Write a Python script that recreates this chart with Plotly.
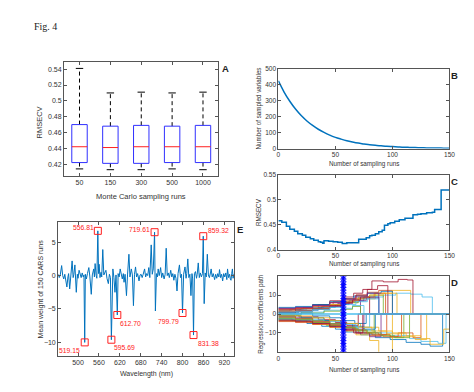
import numpy as np
import plotly.graph_objects as go

# ---------------- data ----------------
# Panel A: box statistics
A_CATEGORIES = ["50", "150", "300", "500", "1000"]
A_LOWER = [0.414, 0.413, 0.413, 0.414, 0.413]
A_Q1 = [0.422, 0.421, 0.421, 0.422, 0.422]
A_MEDIAN = [0.442, 0.441, 0.442, 0.442, 0.442]
A_Q3 = [0.470, 0.468, 0.469, 0.468, 0.469]
A_UPPER = [0.541, 0.510, 0.511, 0.510, 0.511]

# Panel B: number of sampled variables
B_RUNS = [0, 5, 10, 15, 20, 25, 30, 35, 40, 45, 50, 55, 60, 65, 70, 75, 80, 85, 90,
          95, 100, 105, 110, 115, 120, 125, 130, 135, 140, 145, 150]
B_VARS = [425, 355, 297, 248, 207, 173, 145, 121, 101, 84, 70, 59, 49, 41, 34, 29,
          24, 20, 17, 14, 12, 10, 8, 7, 6, 5, 4, 3, 3, 2, 2]

# Panel C: RMSECV per run
C_RUNS = [0, 3, 7, 10, 14, 17, 21, 24, 28, 31, 35, 37, 38.8, 40, 44, 48, 52, 56, 60,
          64, 69, 70.4, 74, 77, 80, 82, 85, 88, 91, 93, 96, 98, 102, 106, 111, 116,
          118, 122, 125, 130, 135, 137, 142.7, 150]
C_RMSECV = [0.458, 0.455, 0.447, 0.441, 0.437, 0.432, 0.429, 0.425, 0.422, 0.419,
            0.416, 0.415, 0.413, 0.418, 0.417, 0.416, 0.415, 0.4125, 0.414, 0.414,
            0.414, 0.421, 0.421, 0.424, 0.428, 0.429, 0.432, 0.436, 0.439, 0.449,
            0.452, 0.454, 0.457, 0.460, 0.463, 0.463, 0.470, 0.471, 0.472, 0.474,
            0.475, 0.481, 0.520, 0.520]

# Panel D: regression coefficient paths (breakpoints, step-wise)
D_PATHS_X = [
    [0, 12, 25, 38, 50, 60, 72, 85, 98, 112, 125, 133, 144, 150],
    [0, 10, 22, 35, 48, 58, 68, 78, 88, 100, 150],
    [0, 15, 30, 45, 57, 70, 85, 100, 116, 150],
    [0, 15, 30, 45, 55, 65, 75, 150],
    [0, 14, 28, 42, 56, 70, 85, 98, 110, 150],
    [0, 12, 25, 40, 55, 68, 80, 92, 103, 116, 126, 135, 150],
    [0, 15, 30, 45, 57, 66, 74, 82, 92, 105, 113, 118, 150],
    [0, 18, 35, 50, 62, 75, 88, 150],
    [0, 15, 30, 45, 58, 70, 82, 95, 150],
    [0, 15, 30, 45, 57, 68, 80, 88, 100, 150],
    [0, 20, 38, 52, 62, 72, 150],
    [0, 15, 30, 45, 58, 70, 80, 92, 150],
    [0, 15, 30, 45, 57, 70, 85, 100, 115, 125, 140, 147, 150],
    [0, 18, 35, 50, 60, 70, 150],
    [0, 15, 30, 45, 56, 66, 78, 90, 100, 150],
    [0, 15, 30, 45, 57, 68, 80, 92, 105, 118, 125, 150],
    [0, 20, 40, 57, 72, 88, 100, 112, 125, 133, 145, 150],
    [0, 15, 30, 45, 55, 65, 77, 88, 150],
    [0, 15, 30, 45, 57, 66, 75, 84, 150],
    [0, 20, 40, 55, 65, 75, 150],
    [0, 15, 30, 45, 57, 68, 78, 87, 96, 150],
    [0, 20, 40, 55, 65, 75, 85, 150],
    [0, 15, 30, 45, 57, 66, 75, 84, 94, 150],
    [0, 15, 30, 45, 57, 70, 80, 92, 104, 150],
    [0, 15, 30, 45, 57, 68, 80, 90, 150],
    [0, 20, 40, 55, 65, 72, 150],
    [0, 20, 40, 55, 68, 80, 150],
    [0, 15, 30, 45, 57, 65, 72, 80, 150],
    [0, 15, 30, 45, 57, 67, 77, 150],
    [0, 15, 30, 45, 57, 67, 77, 88, 98, 108, 150],
    [0, 15, 30, 45, 57, 70, 82, 95, 108, 120, 130, 150],
    [0, 15, 30, 45, 57, 67, 78, 88, 150],
    [0, 15, 30, 45, 57, 68, 78, 90, 102, 115, 150],
    [0, 15, 30, 45, 57, 68, 78, 88, 150],
    [0, 15, 30, 45, 57, 66, 74, 150],
]
D_PATHS_Y = [
    [-2.5, -3.5, -5, -6.5, -8, -9.5, -11, -12.5, -13.5, -15, -16, -17, 0, 0],
    [1.5, 2.5, 3.5, 5, 6.5, 8, 10, 11.5, 12.5, 0, 0],
    [0.5, 1.5, 3, 4.5, 6, 8, 11, 12.5, 0, 0],
    [-1, -2, -3.5, -5, -6.5, -8, 0, 0],
    [-3, -3.5, -4.5, -6, -7.5, -9, -11, -12.5, 0, 0],
    [2, 2.5, 3.5, 5, 6.5, 8, 9, 10, 11, 10.5, 9, 0, 0],
    [3, 3.5, 5, 7, 9, 11, 13, 17.5, 17, 18.3, 18, 0, 0],
    [1, 2, 3.5, 5, 7, 9, 0, 0],
    [-2, -3, -4.5, -6, -8, -10, -11, 0, 0],
    [-3.5, -4, -5.5, -7, -9, -11, -14, -20.5, 0, 0],
    [2.5, 3, 4, 5.5, 7, 0, 0],
    [0.5, 1.5, 2.5, 4, 6, 8.5, 10, 0, 0],
    [-1.5, -2.5, -4, -5.5, -7, -8.5, -10, -11.5, -13, -14.5, -15.5, 0, 0],
    [-0.5, -1.5, -3, -4.5, -6, 0, 0],
    [3.5, 4, 5, 6.5, 8, 9.5, 11, 12, 0, 0],
    [-4, -4.5, -5.5, -7, -8.5, -10, -11.5, -12, -10, -12.5, 0, 0],
    [-1, -2, -3.5, -5, -7, -9, -10, -11.5, -13, -16, -8, -8],
    [1, 1.5, 2.5, 4, 5.5, 7, 8.5, 0, 0],
    [-2, -2.5, -3.5, -5, -7, -8.5, -10, 0, 0],
    [0, 1, 2, 3, 4.5, 0, 0],
    [2, 3, 4.5, 6, 8, 10, 13, 15, 0, 0],
    [-1, -2, -3.5, -5, -6.5, -8, 0, 0],
    [2.5, 3, 4, 5, 6.5, 8, 9, 11, 0, 0],
    [1.5, 2, 3, 5, 7, 9, 10, 11, 0, 0],
    [-3, -3.5, -5, -6.5, -8, -10, -12, 0, 0],
    [-0.5, 0.5, 1.5, 2.5, 4, 0, 0],
    [-2.5, -3, -4, -5.5, -7, 0, 0],
    [1, 2, 3, 4.5, 6, 7.5, 9, 0, 0],
    [0.5, 0.5, -1, -2, -3.5, -5, 0, 0],
    [-1.5, -2.5, -4, -5.5, -7, -8.5, -10, -11, -12, 0, 0],
    [-0.5, -1, -2, -3.5, -5, -7, -9, -10.5, -12, -13.5, 0, 0],
    [3, 3.5, 4.5, 6, 7.5, 9, 11, 0, 0],
    [-2.5, -3, -4.5, -6, -7, -8.5, -10, -11.5, -12.5, 0, 0],
    [1, 1.5, 2.5, 3.5, 5, 6.5, 8, 0, 0],
    [-3.5, -4, -5, -6.5, -8.5, -10, 0, 0],
]
D_BEST_RUN = 57

# Panel E: mean weights over wavelength
E_WAVELENGTH = [443, 446, 449, 453, 456, 459, 462, 465, 468, 471, 473, 476, 479, 483, 486,
                488, 491, 493, 495, 498, 500, 503, 506, 509, 512, 515, 517, 519.15, 521,
                524, 527, 531, 534, 538, 541, 545, 547, 549, 552, 554, 556.81, 559, 560.5,
                563, 566, 568, 571, 574, 577, 580, 583, 587, 590, 593, 595.69, 598, 600,
                603, 606, 609, 612.70, 615, 618, 621, 624, 627, 630, 632, 635, 639, 642,
                646, 649, 653, 656, 659, 662, 665, 668, 671, 675, 678, 681, 684, 687, 691,
                694, 697, 700, 703, 706, 710, 713, 716, 719.61, 722, 725, 728, 730, 733,
                737, 740, 743, 747, 750, 753, 756, 759, 762, 766, 769, 772, 775, 778, 781,
                784, 787, 791, 794, 797, 799.79, 803, 807, 810, 812, 815, 818, 821, 824,
                827, 829, 831.38, 834, 837, 840, 842, 845, 848, 851, 854, 857, 859.32, 862,
                865, 868, 871, 874, 877, 880, 882, 885, 888, 892, 895, 898, 901, 904, 906,
                909, 912, 915, 918, 921, 924, 927, 929, 932, 935, 937, 939, 941, 943, 945, 947]
E_WEIGHT = [0.2, -0.3, 0.1, 1.5, 0.0, -0.5, 0.2, -0.9, -1.7, -0.2, 0.3, -2.0, 0.1, 2.2, -0.3,
            0.2, 1.6, 0.0, -2.5, 0.2, -0.4, 0.8, 0.1, -0.3, 0.4, -0.2, 0.1, -10.0, 0.2,
            -0.5, 0.3, 1.2, -0.2, -2.8, 0.1, 1.0, -0.2, 1.8, 0.0, -0.4, 6.7, 0.3, 1.7,
            -0.3, 0.5, -0.2, 3.9, 0.1, 0.6, 0.8, -0.4, -1.2, 0.2, -0.3, -9.6, 0.2, 1.0,
            -0.3, -2.5, 0.1, -5.9, 0.3, -0.2, 1.0, 0.0, -0.5, 0.3, -1.0, 0.2, -3.0, 0.1,
            3.2, -0.2, 1.0, 0.1, -4.5, 0.2, 1.3, -0.2, 0.3, -0.8, 0.1, 0.2, -0.3, 0.2, 1.0,
            -0.2, 0.3, 0.0, 1.2, -0.3, 4.6, 0.2, 1.0, 6.5, -5.3, 0.3, -0.2, 1.0, 0.0,
            1.2, -0.3, 0.4, -0.5, 0.2, 4.1, 0.0, 0.4, -0.3, 0.8, -0.2, 0.3, -0.7, 0.2, -0.4,
            -2.3, 0.3, 1.6, -0.3, 0.2, -5.6, 0.2, 1.3, -0.4, 0.3, 2.5, -0.3, 0.2, -3.0,
            0.3, -0.5, -8.9, 0.3, 0.6, -0.4, 0.2, 1.9, -0.3, 0.4, -0.2, 0.3, 5.9, -4.2,
            0.4, -0.2, 3.2, 0.1, -0.3, 0.4, 1.0, -0.2, 0.3, -0.6, 0.2, -0.4, 0.3, -0.2, 0.9,
            -0.3, 0.2, -0.8, 0.3, -0.2, 0.4, -0.6, 1.0, -0.3, 0.2, -0.5, -0.7, 0.3, 1.0, -0.4, 0.2]
E_PEAK_WL = [556.81, 719.61, 859.32, 519.15, 595.69, 612.70, 799.79, 831.38]
E_PEAK_VAL = [6.7, 6.5, 5.9, -10.0, -9.6, -5.9, -5.6, -8.9]

# ---------------- styling ----------------
W, H = 474, 392
FONT = "Liberation Sans"
MATLAB = ["#0072BD", "#D95319", "#EDB120", "#7E2F8E", "#77AC30", "#4DBEEE", "#A2142F"]
AX_COL = "#555555"
TXT_COL = "#333333"


def px(x):
    return x / W


def py(y):
    return 1 - y / H


def axis_style(size=7):
    return dict(showline=True, linecolor=AX_COL, linewidth=1, mirror="ticks",
                ticks="inside", ticklen=3, tickcolor=AX_COL,
                tickfont=dict(size=size, color=TXT_COL, family=FONT),
                showgrid=False, zeroline=False, fixedrange=True)


fig = go.Figure()

# ---- Panel A: boxes drawn from statistics
bx, by, mx, my, wx, wy, cx, cy = [], [], [], [], [], [], [], []
hw, cw = 0.25, 0.12
for i in range(len(A_CATEGORIES)):
    p = i + 1
    bx += [p - hw, p + hw, p + hw, p - hw, p - hw, None]
    by += [A_Q1[i], A_Q1[i], A_Q3[i], A_Q3[i], A_Q1[i], None]
    mx += [p - hw, p + hw, None]
    my += [A_MEDIAN[i], A_MEDIAN[i], None]
    wx += [p, p, None, p, p, None]
    wy += [A_Q3[i], A_UPPER[i], None, A_Q1[i], A_LOWER[i], None]
    cx += [p - cw, p + cw, None, p - cw, p + cw, None]
    cy += [A_UPPER[i], A_UPPER[i], None, A_LOWER[i], A_LOWER[i], None]
fig.add_trace(go.Scatter(x=wx, y=wy, mode="lines", line=dict(color="black", width=1, dash="4px,3px"),
                         xaxis="x", yaxis="y", showlegend=False, hoverinfo="skip"))
fig.add_trace(go.Scatter(x=cx, y=cy, mode="lines", line=dict(color="black", width=1),
                         xaxis="x", yaxis="y", showlegend=False, hoverinfo="skip"))
fig.add_trace(go.Scatter(x=bx, y=by, mode="lines", line=dict(color="#3030ff", width=1),
                         xaxis="x", yaxis="y", showlegend=False, hoverinfo="skip"))
fig.add_trace(go.Scatter(x=mx, y=my, mode="lines", line=dict(color="#ff2020", width=1),
                         xaxis="x", yaxis="y", showlegend=False, hoverinfo="skip"))

# ---- Panel B
fig.add_trace(go.Scatter(x=B_RUNS, y=B_VARS, mode="lines", line=dict(color=MATLAB[0], width=1.5, shape="spline"),
                         xaxis="x2", yaxis="y2", showlegend=False))

# ---- Panel C
fig.add_trace(go.Scatter(x=C_RUNS, y=C_RMSECV, mode="lines", line=dict(color=MATLAB[0], width=1.5, shape="hv"),
                         xaxis="x3", yaxis="y3", showlegend=False))

# ---- Panel D
for i, (xs, ys) in enumerate(zip(D_PATHS_X, D_PATHS_Y)):
    fig.add_trace(go.Scatter(x=xs, y=ys, mode="lines", line=dict(color=MATLAB[i % 7], width=0.8, shape="hv"),
                             xaxis="x4", yaxis="y4", showlegend=False))
fig.add_trace(go.Scatter(x=[0, 150], y=[0, 0], mode="lines", line=dict(color=MATLAB[5], width=1.5),
                         xaxis="x4", yaxis="y4", showlegend=False))
vy = np.linspace(-20, 20, 28)
fig.add_trace(go.Scatter(x=[D_BEST_RUN] * len(vy), y=vy, mode="lines+markers",
                         line=dict(color="#0000ff", width=2, dash="dot"),
                         marker=dict(symbol="asterisk-open", size=5, color="#0000ff",
                                     line=dict(color="#0000ff", width=1)),
                         xaxis="x4", yaxis="y4", showlegend=False))

# ---- Panel E
fig.add_trace(go.Scatter(x=E_WAVELENGTH, y=E_WEIGHT, mode="lines", line=dict(color=MATLAB[0], width=1),
                         xaxis="x5", yaxis="y5", showlegend=False))
fig.add_trace(go.Scatter(x=E_PEAK_WL, y=E_PEAK_VAL, mode="markers",
                         marker=dict(symbol="square-open", size=7, color="#ff2020", line=dict(width=1)),
                         xaxis="x5", yaxis="y5", showlegend=False))

label_pos = [  # xanchor, yanchor, xshift, yshift
    ("right", "middle", -2, 3), ("right", "middle", -3, 3), ("left", "middle", 3, 6),
    ("right", "top", -3, -3), ("left", "top", 1, -2), ("left", "top", 1, -3),
    ("right", "top", -2, -3), ("left", "top", 2, -3)]
annotations = []
for (wl, val), (xa, ya, xs, ys) in zip(zip(E_PEAK_WL, E_PEAK_VAL), label_pos):
    annotations.append(dict(x=wl, y=val, xref="x5", yref="y5", text=f"{wl:.2f}", showarrow=False,
                            xanchor=xa, yanchor=ya, xshift=xs, yshift=ys,
                            font=dict(size=6.8, color="#ff2020", family=FONT)))

# ---- layout / axes
dA = dict(x=[px(55), px(212)], y=[py(167), py(51)])
dB = dict(x=[px(273), px(447)], y=[py(139), py(58)])
dC = dict(x=[px(273), px(447)], y=[py(242), py(166)])
dD = dict(x=[px(273), px(447)], y=[py(346), py(269)])
dE = dict(x=[px(49), px(228)], y=[py(350), py(214)])

layout = dict(width=W, height=H, margin=dict(l=0, r=0, t=0, b=0),
              paper_bgcolor="white", plot_bgcolor="white", showlegend=False,
              font=dict(family=FONT, color=TXT_COL))
layout["xaxis"] = dict(axis_style(7), domain=dA["x"], anchor="y", range=[0.5, 5.5],
                       tickvals=[1, 2, 3, 4, 5], ticktext=A_CATEGORIES)
layout["yaxis"] = dict(axis_style(7), domain=dA["y"], anchor="x", range=[0.405, 0.549],
                       tickvals=[0.42, 0.44, 0.46, 0.48, 0.5, 0.52, 0.54])
layout["xaxis2"] = dict(axis_style(6.5), domain=dB["x"], anchor="y2", range=[0, 150], tickvals=[0, 50, 100, 150])
layout["yaxis2"] = dict(axis_style(6.5), domain=dB["y"], anchor="x2", range=[0, 500], dtick=100)
layout["xaxis3"] = dict(axis_style(6.5), domain=dC["x"], anchor="y3", range=[0, 150], tickvals=[0, 50, 100, 150])
layout["yaxis3"] = dict(axis_style(6.5), domain=dC["y"], anchor="x3", range=[0.4, 0.55],
                        tickvals=[0.4, 0.45, 0.5, 0.55])
layout["xaxis4"] = dict(axis_style(6.5), domain=dD["x"], anchor="y4", range=[0, 150], tickvals=[0, 50, 100, 150])
layout["yaxis4"] = dict(axis_style(6.5), domain=dD["y"], anchor="x4", range=[-20, 20], tickvals=[-10, 0, 10])
layout["xaxis5"] = dict(axis_style(7), domain=dE["x"], anchor="y5", range=[443, 948],
                        tickvals=[500, 560, 620, 680, 740, 800, 860, 920])
layout["yaxis5"] = dict(axis_style(7), domain=dE["y"], anchor="x5", range=[-12, 8], tickvals=[-10, -5, 0, 5])


def text(x, y, s, size=7.5, angle=0, **kw):
    d = dict(x=px(x), y=py(y), xref="paper", yref="paper", text=s, showarrow=False,
             textangle=angle, xanchor="center", yanchor="middle",
             font=dict(size=size, color=TXT_COL, family=FONT))
    d.update(kw)
    return d


annotations += [
    text(36, 15, "Fig. 4", size=10, font=dict(size=10, color="#222", family="Liberation Serif")),
    text(30, 112, "RMSECV", 7.5, -90),
    text(133.5, 188, "Monte Carlo sampling runs", 7.5),
    text(253, 98.5, "Number of sampled variables", 6.3, -90),
    text(360, 155, "Number of sampling runs", 6.3),
    text(253, 204, "RMSECV", 6.3, -90),
    text(360, 257, "Number of sampling runs", 6.3),
    text(255, 307.5, "Regression coefficients path", 6.3, -90),
    text(360, 364, "Number of sampling runs", 6.3),
    text(32, 282, "Mean weight of 150 CARS runs", 7, -90),
    text(138.5, 369, "Wavelength (nm)", 7),
]
for lx, ly, s in [(219, 58, "A"), (452, 65, "B"), (452, 173, "C"), (452, 275, "D"), (234, 221, "E")]:
    annotations.append(text(lx, ly, f"<b>{s}</b>", 9.5, font=dict(size=9.5, color="#222", family=FONT)))
layout["annotations"] = annotations

fig.update_layout(**layout)
fig.write_html("out.html")
